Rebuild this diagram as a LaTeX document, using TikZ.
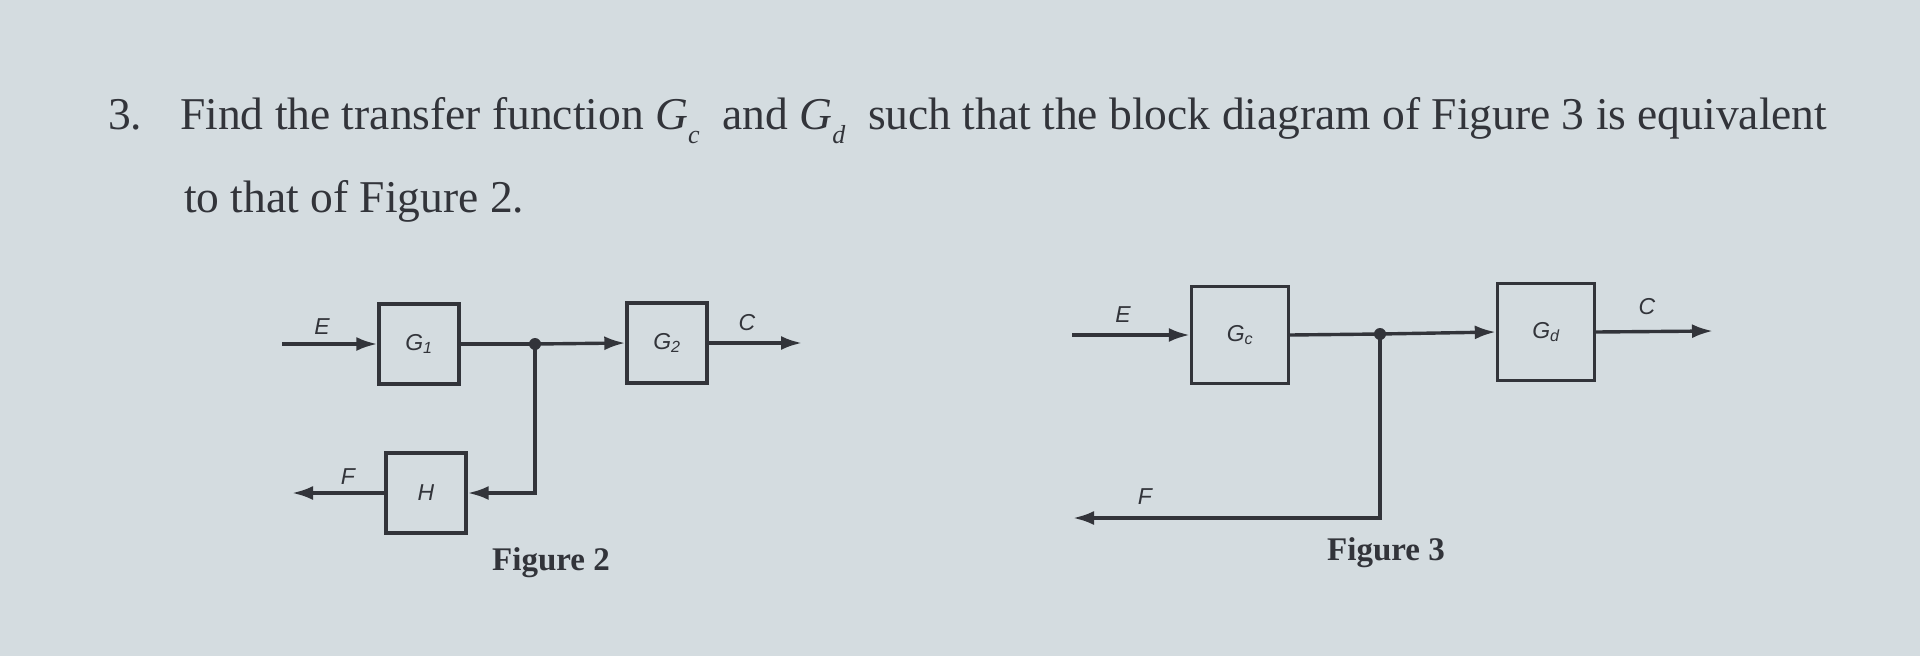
\documentclass[tikz,border=0pt]{standalone}
\usepackage{fontspec}
\setmainfont{Liberation Serif}
\newfontfamily\labfont{Liberation Sans}
\usetikzlibrary{arrows.meta}
\definecolor{paper}{RGB}{212,220,224}
\definecolor{ink}{RGB}{50,52,58}
\begin{document}
\begin{tikzpicture}[x=1pt,y=-1pt,
  blk/.style={draw=ink,line width=3.4pt,minimum width=#1,minimum height=#1,inner sep=0pt,font=\labfont\itshape\fontsize{23}{24}\selectfont,text=ink},
  blk/.default=80pt,
  conn/.style={draw=ink,line width=3.4pt},
  arr/.style={conn,-{Latex[length=21pt,width=14pt]}},
  lbl/.style={font=\labfont\itshape\fontsize{23}{24}\selectfont,text=ink,inner sep=0pt},
  dotn/.style={circle,fill=ink,inner sep=0pt,minimum size=12pt},
  ttl/.style={font=\fontsize{45.5}{52}\selectfont,text=ink,inner sep=0pt,anchor=base west},
  figl/.style={font=\bfseries\fontsize{33}{36}\selectfont,text=ink,inner sep=0pt}]
\fill[paper] (0,0) rectangle (1920,656);
\useasboundingbox (0,0) rectangle (1920,656);
% title
\node[ttl] (num) at (108,129) {3.};
\node[ttl] (line1) at (180,129) {Find the transfer function \textit{G}\raisebox{-0.32em}{\fontsize{26}{26}\selectfont\textit{c}}\ \ and \textit{G}\raisebox{-0.32em}{\fontsize{26}{26}\selectfont\textit{d}}\ \ such that the block diagram of Figure 3 is equivalent};
\node[ttl] (line2) at (184,212) {to that of Figure 2.};
% Figure 2
\node[blk=80pt] (G1) at (419,344) {G\textsubscript{1}};
\node[blk=80pt] (G2) at (667,343) {G\textsubscript{2}};
\node[blk=80pt] (H) at (426,493) {H};
\node[dotn] (J2) at (535,344) {};
\coordinate (E2) at (282,344);
\coordinate (C2) at (802,343);
\coordinate (F2) at (292,493);
\draw[arr] (E2) -- (G1.west);
\draw[conn] (G1.east) -- (J2.center);
\draw[arr] (J2.center) -- (G2.west);
\draw[arr] (G2.east) -- (C2);
\draw[arr] (J2.center) |- (H.east);
\draw[arr] (H.west) -- (F2);
\node[lbl] (lE2) at (322,327) {E};
\node[lbl] (lC2) at (747,323) {C};
\node[lbl] (lF2) at (348,477) {F};
\node[figl] (fig2) at (551,563) {Figure 2};
% Figure 3
\node[blk=97pt] (Gc) at (1240,335) {G\textsubscript{c}};
\node[blk=97pt] (Gd) at (1546,332) {G\textsubscript{d}};
\node[dotn] (J3) at (1380,334) {};
\coordinate (E3) at (1072,335);
\coordinate (C3) at (1713,331);
\coordinate (F3) at (1073,518);
\draw[arr] (E3) -- (Gc.west);
\draw[conn] (Gc.east) -- (J3.center);
\draw[arr] (J3.center) -- (Gd.west);
\draw[arr] (Gd.east) -- (C3);
\draw[arr] (J3.center) |- (F3);
\node[lbl] (lE3) at (1123,315) {E};
\node[lbl] (lC3) at (1647,307) {C};
\node[lbl] (lF3) at (1145,497) {F};
\node[figl] (fig3) at (1386,553) {Figure 3};
\end{tikzpicture}
\end{document}
